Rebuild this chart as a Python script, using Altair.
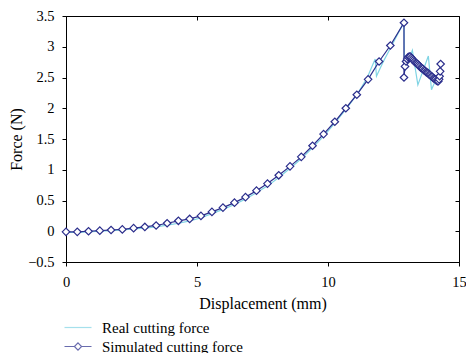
import altair as alt
import pandas as pd

# ---------------- data ----------------
series_names = ["Real cutting force", "Simulated cutting force"]

real_x = [0.0, 0.43, 0.86, 1.29, 1.72, 2.15, 2.58, 3.01, 3.44, 3.87, 4.30, 4.73,
          5.16, 5.59, 6.02, 6.45, 6.88, 7.31, 7.74, 8.17, 8.60, 9.03, 9.46, 9.89,
          10.32, 10.75, 11.18, 11.50, 11.80, 11.85, 12.10, 12.47, 12.90, 12.92,
          13.22, 13.43, 13.83, 13.95, 14.10, 14.20]
real_y = [-0.02, -0.02, -0.01, 0.0, 0.01, 0.02, 0.04, 0.05, 0.07, 0.10, 0.13, 0.17,
          0.22, 0.29, 0.36, 0.44, 0.53, 0.64, 0.75, 0.89, 1.04, 1.20, 1.38, 1.57,
          1.79, 2.02, 2.27, 2.50, 2.80, 2.52, 2.75, 3.05, 3.40, 2.60,
          2.94, 2.38, 2.85, 2.30, 2.45, 2.47]

sim_x = [0.0, 0.43, 0.86, 1.29, 1.72, 2.15, 2.58, 3.01, 3.44, 3.86, 4.29, 4.72,
         5.15, 5.57, 5.99, 6.43, 6.85, 7.27, 7.69, 8.12, 8.55, 8.98, 9.41, 9.83,
         10.26, 10.68, 11.10, 11.53, 11.95, 12.38, 12.90, 12.90,
         12.94, 12.98, 13.02, 13.06, 13.10, 13.14, 13.18, 13.22, 13.26, 13.30,
         13.34, 13.38, 13.42, 13.46, 13.50, 13.54, 13.58, 13.62, 13.66, 13.70,
         13.74, 13.78, 13.82, 13.86, 13.90, 13.94, 13.98, 14.02, 14.06, 14.10,
         14.14, 14.18, 14.21, 14.24, 14.26, 14.28, 14.30]
sim_y = [-0.01, -0.01, 0.0, 0.01, 0.02, 0.03, 0.05, 0.07, 0.094, 0.13, 0.17, 0.20,
         0.25, 0.315, 0.385, 0.465, 0.555, 0.66, 0.775, 0.91, 1.055, 1.21, 1.39, 1.58,
         1.78, 2.00, 2.22, 2.47, 2.76, 3.02, 3.39, 2.50,
         2.68, 2.76, 2.80, 2.83, 2.84, 2.84, 2.82, 2.80, 2.78, 2.76,
         2.74, 2.73, 2.72, 2.70, 2.68, 2.66, 2.65, 2.64, 2.62, 2.61,
         2.59, 2.58, 2.57, 2.55, 2.54, 2.52, 2.51, 2.49, 2.48, 2.47,
         2.45, 2.44, 2.44, 2.47, 2.52, 2.60, 2.72]

x_ticks = [0, 5, 10, 15]
y_ticks = [-0.5, 0, 0.5, 1, 1.5, 2, 2.5, 3, 3.5]

# ---------------- styling ----------------
NAVY = "#2b2e8c"
CYAN = "#80d4e4"
FONT = "Liberation Serif"

LINE_PATH = "M-3,0L3,0"
LINE_DIAMOND_PATH = "M-3,0L-0.8,0M0.8,0L3,0M0,-0.8L0.8,0L0,0.8L-0.8,0Z"

real_df = pd.DataFrame({"x": real_x, "y": real_y, "i": list(range(len(real_x)))})
sim_df = pd.DataFrame({"x": sim_x, "y": sim_y, "i": list(range(len(sim_x)))})
legend_df = pd.DataFrame({"series": series_names})

xs = alt.Scale(domain=[0, 15], nice=False, zero=False)
ys = alt.Scale(domain=[-0.5, 3.5], nice=False, zero=False)

PLOT_W = 393
PLOT_H = 246

axis_common = dict(grid=False, tickSize=4, tickColor="black", domainColor="black",
                   labelColor="black", titleColor="black", labelFont=FONT,
                   titleFont=FONT, labelFontSize=14.5, titleFontSize=16,
                   titleFontWeight="normal", format="~g", tickWidth=1, domainWidth=1,
                   labelFlush=False)

x_axis = alt.Axis(values=x_ticks, title="Displacement (mm)", labelPadding=9,
                  titleY=41, titleBaseline="middle", **axis_common)
y_axis = alt.Axis(values=y_ticks, title="Force (N)", labelPadding=8,
                  titleX=-50, titleY=PLOT_H / 2, titleBaseline="middle", **axis_common)

top_axis = alt.Axis(orient="top", values=x_ticks, labels=False, title="", domain=False,
                    offset=-4, tickSize=4, tickColor="black", grid=False)
right_axis = alt.Axis(orient="right", values=y_ticks, labels=False, title="", domain=False,
                      offset=-4, tickSize=4, tickColor="black", grid=False)

real_line = alt.Chart(real_df).mark_line(color=CYAN, strokeWidth=1.2).encode(
    x=alt.X("x:Q", scale=xs, axis=x_axis),
    y=alt.Y("y:Q", scale=ys, axis=y_axis),
    order="i:Q",
)

sim_line = alt.Chart(sim_df).mark_line(color=NAVY, strokeWidth=1.2).encode(
    x=alt.X("x:Q", scale=xs, axis=None),
    y=alt.Y("y:Q", scale=ys, axis=None),
    order="i:Q",
)

sim_pts = alt.Chart(sim_df).mark_point(
    shape="diamond", size=56, filled=True, fill="white", stroke=NAVY,
    strokeWidth=1.2, opacity=1,
).encode(
    x=alt.X("x:Q", scale=xs, axis=None),
    y=alt.Y("y:Q", scale=ys, axis=None),
)

frame = alt.Chart(sim_df).mark_point(opacity=0).encode(
    x=alt.X("x:Q", scale=xs, axis=top_axis),
    y=alt.Y("y:Q", scale=ys, axis=right_axis),
)

legend = alt.Legend(
    title=None, orient="none", legendX=4.5, legendY=304, direction="vertical",
    symbolSize=81, symbolStrokeWidth=1.2, labelFont=FONT, labelFontSize=15,
    labelColor="black", labelOffset=16.5, rowPadding=3, padding=0,
)

legend_layer = alt.Chart(legend_df).mark_point(clip=True, filled=False, strokeWidth=1.2).encode(
    x=alt.value(-100),
    y=alt.value(-100),
    color=alt.Color("series:N", scale=alt.Scale(domain=series_names, range=[CYAN, NAVY]),
                    legend=legend),
    shape=alt.Shape("series:N", scale=alt.Scale(domain=series_names,
                                                range=[LINE_PATH, LINE_DIAMOND_PATH]),
                    legend=legend),
)

chart = alt.layer(real_line, sim_line, sim_pts, frame, legend_layer).resolve_axis(
    x="independent", y="independent"
).properties(
    width=PLOT_W, height=PLOT_H,
    autosize=alt.AutoSizeParams(type="none"),
    padding={"left": 58, "top": 8, "right": 7, "bottom": 91},
).configure_view(stroke="black", strokeWidth=1)

chart.save("out.html", embed_options={"renderer": "svg", "actions": False})
